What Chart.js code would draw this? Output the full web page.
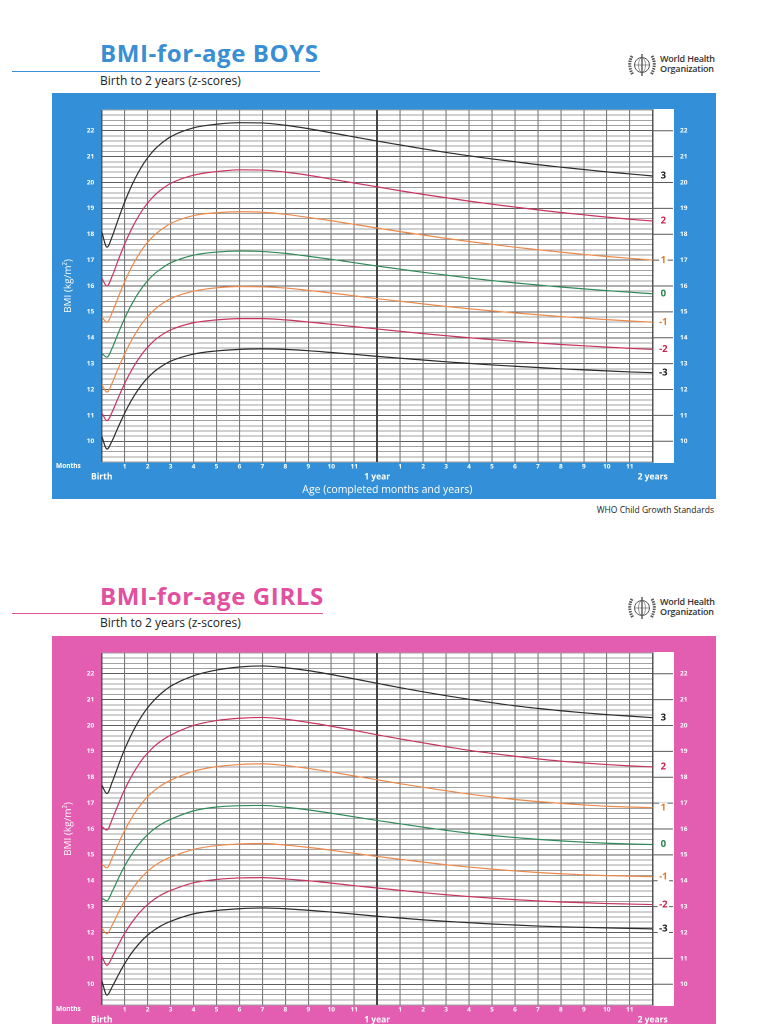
<!DOCTYPE html>
<html><head><meta charset="utf-8">
<script src="https://cdn.jsdelivr.net/npm/chart.js@4.4.1/dist/chart.umd.min.js"></script>
<style>
html,body{margin:0;padding:0;background:#fff;}
body{width:768px;height:1024px;overflow:hidden;position:relative;font-family:'Open Sans',sans-serif;}
.title{position:absolute;left:100px;font-weight:700;font-size:24px;line-height:24px;letter-spacing:0.6px;white-space:nowrap;}
.rule{position:absolute;left:12px;height:1px;}
.sub{position:absolute;left:100px;font-size:12px;line-height:12px;color:#222;white-space:nowrap;}
.box{position:absolute;left:52px;width:664px;height:406px;}
.box canvas{position:absolute;left:0;top:0;width:664px;height:406px;}
.months{position:absolute;left:4px;top:369px;color:#fff;font-weight:700;font-size:6.5px;line-height:8px;}
.logo{position:absolute;left:626px;}
.logotext{position:absolute;left:660px;font-size:9px;line-height:10px;font-weight:600;color:#333;white-space:nowrap;letter-spacing:-0.2px;}
.std{position:absolute;right:54px;font-size:8.5px;line-height:10px;color:#222;white-space:nowrap;}
</style></head>
<body>
<div class="title" style="top:41px;color:#3a8fd4">BMI-for-age BOYS</div>
<div class="rule" style="top:71px;width:308px;background:#3a8fd4"></div>
<div class="sub" style="top:75px">Birth to 2 years (z-scores)</div>
<svg class="logo" style="top:51px" width="32" height="28" viewBox="0 0 32 28"><g fill="none" stroke="#555"><circle cx="16" cy="14" r="7.5" stroke-width="1"/><ellipse cx="16" cy="14" rx="3.5" ry="7.5" stroke-width="0.6"/><line x1="8.5" y1="14" x2="23.5" y2="14" stroke-width="0.6"/><line x1="16" y1="3" x2="16" y2="25" stroke-width="1.4"/><path d="M6 5 Q1 14 7 24" stroke-width="3" stroke-dasharray="1.5 1"/><path d="M26 5 Q31 14 25 24" stroke-width="3" stroke-dasharray="1.5 1"/></g></svg>
<div class="logotext" style="top:54px">World Health<br>Organization</div>
<div class="box" style="top:93px;background:#3390d8"><canvas id="boys" width="664" height="406"></canvas><div class="months">Months</div></div>
<div class="std" style="top:505px">WHO Child Growth Standards</div>

<div class="title" style="top:584px;color:#e2509f">BMI-for-age GIRLS</div>
<div class="rule" style="top:613px;width:311px;background:#e2509f"></div>
<div class="sub" style="top:617px">Birth to 2 years (z-scores)</div>
<svg class="logo" style="top:594px" width="32" height="28" viewBox="0 0 32 28"><g fill="none" stroke="#555"><circle cx="16" cy="14" r="7.5" stroke-width="1"/><ellipse cx="16" cy="14" rx="3.5" ry="7.5" stroke-width="0.6"/><line x1="8.5" y1="14" x2="23.5" y2="14" stroke-width="0.6"/><line x1="16" y1="3" x2="16" y2="25" stroke-width="1.4"/><path d="M6 5 Q1 14 7 24" stroke-width="3" stroke-dasharray="1.5 1"/><path d="M26 5 Q31 14 25 24" stroke-width="3" stroke-dasharray="1.5 1"/></g></svg>
<div class="logotext" style="top:597px">World Health<br>Organization</div>
<div class="box" style="top:636px;background:#e35db0"><canvas id="girls" width="664" height="406"></canvas><div class="months">Months</div></div>

<script>
// ---- data ----
const ageMonths = [0, 0.23, 0.46, 0.69, 0.92, 1.15, 1.38, 1.61, 1.84, 2.07, 2.30, 2.53, 2.76, 2.99,
  4, 5, 6, 7, 8, 9, 10, 11, 12, 13, 14, 15, 16, 17, 18, 19, 20, 21, 22, 23, 24];
const zNames = ['3', '2', '1', '0', '-1', '-2', '-3'];

const boysZ3  = [18.10, 17.50, 17.92, 18.50, 19.06, 19.57, 20.02, 20.41, 20.75, 21.03, 21.27, 21.46, 21.62, 21.76,
  22.11, 22.25, 22.31, 22.30, 22.21, 22.08, 21.92, 21.76, 21.60, 21.45, 21.30, 21.16, 21.03, 20.91, 20.80, 20.69, 20.59, 20.50, 20.41, 20.33, 20.25];
const boysZ2  = [16.30, 16.00, 16.39, 16.93, 17.45, 17.92, 18.34, 18.70, 19.02, 19.28, 19.50, 19.68, 19.83, 19.96,
  20.28, 20.42, 20.49, 20.48, 20.40, 20.28, 20.13, 19.98, 19.83, 19.68, 19.54, 19.41, 19.28, 19.16, 19.05, 18.94, 18.84, 18.75, 18.66, 18.58, 18.51];
const boysZ1  = [14.80, 14.60, 14.98, 15.50, 16.00, 16.46, 16.86, 17.21, 17.51, 17.76, 17.97, 18.14, 18.28, 18.41,
  18.72, 18.83, 18.87, 18.85, 18.77, 18.65, 18.52, 18.38, 18.24, 18.10, 17.97, 17.84, 17.72, 17.61, 17.50, 17.40, 17.31, 17.22, 17.14, 17.07, 17.00];
const boysZ0  = [13.40, 13.25, 13.61, 14.11, 14.59, 15.03, 15.41, 15.74, 16.03, 16.27, 16.47, 16.63, 16.77, 16.89,
  17.19, 17.31, 17.35, 17.33, 17.26, 17.15, 17.03, 16.90, 16.77, 16.65, 16.53, 16.42, 16.31, 16.21, 16.12, 16.04, 15.96, 15.89, 15.82, 15.76, 15.70];
const boysZm1 = [12.20, 11.90, 12.26, 12.75, 13.22, 13.65, 14.03, 14.36, 14.65, 14.89, 15.09, 15.25, 15.39, 15.51,
  15.80, 15.93, 15.98, 15.97, 15.92, 15.83, 15.73, 15.62, 15.51, 15.41, 15.31, 15.21, 15.12, 15.04, 14.96, 14.89, 14.82, 14.76, 14.70, 14.65, 14.60];
const boysZm2 = [11.10, 10.80, 11.14, 11.62, 12.08, 12.50, 12.87, 13.19, 13.47, 13.70, 13.90, 14.06, 14.19, 14.30,
  14.58, 14.69, 14.74, 14.74, 14.69, 14.61, 14.52, 14.43, 14.34, 14.25, 14.16, 14.08, 14.00, 13.93, 13.86, 13.80, 13.74, 13.69, 13.64, 13.59, 13.55];
const boysZm3 = [10.20, 9.70, 10.03, 10.49, 10.94, 11.35, 11.71, 12.02, 12.29, 12.51, 12.70, 12.85, 12.98, 13.09,
  13.37, 13.49, 13.55, 13.57, 13.55, 13.50, 13.43, 13.36, 13.28, 13.21, 13.14, 13.07, 13.01, 12.95, 12.90, 12.85, 12.80, 12.76, 12.72, 12.68, 12.65];

const girlsZ3  = [17.70, 17.37, 17.82, 18.37, 18.91, 19.38, 19.80, 20.17, 20.49, 20.76, 20.99, 21.19, 21.36, 21.51,
  21.92, 22.14, 22.26, 22.30, 22.23, 22.12, 21.97, 21.80, 21.63, 21.46, 21.30, 21.15, 21.01, 20.88, 20.76, 20.66, 20.57, 20.49, 20.42, 20.36, 20.30];
const girlsZ2  = [16.10, 15.96, 16.38, 16.88, 17.37, 17.79, 18.16, 18.49, 18.77, 19.00, 19.20, 19.36, 19.50, 19.62,
  20.00, 20.19, 20.28, 20.31, 20.24, 20.12, 19.97, 19.81, 19.64, 19.48, 19.33, 19.18, 19.04, 18.92, 18.81, 18.71, 18.62, 18.55, 18.49, 18.44, 18.40];
const girlsZ1  = [14.65, 14.50, 14.89, 15.35, 15.80, 16.19, 16.53, 16.83, 17.09, 17.31, 17.49, 17.64, 17.77, 17.88,
  18.23, 18.41, 18.49, 18.52, 18.45, 18.34, 18.20, 18.05, 17.90, 17.75, 17.61, 17.48, 17.35, 17.24, 17.14, 17.06, 16.99, 16.93, 16.88, 16.85, 16.82];
const girlsZ0  = [13.33, 13.23, 13.59, 14.02, 14.44, 14.80, 15.12, 15.40, 15.64, 15.84, 16.01, 16.15, 16.27, 16.37,
  16.70, 16.85, 16.90, 16.91, 16.84, 16.74, 16.61, 16.47, 16.33, 16.20, 16.07, 15.95, 15.84, 15.75, 15.67, 15.60, 15.54, 15.49, 15.45, 15.42, 15.40];
const girlsZm1 = [12.17, 11.95, 12.29, 12.70, 13.10, 13.44, 13.74, 14.00, 14.23, 14.42, 14.58, 14.71, 14.82, 14.91,
  15.21, 15.36, 15.42, 15.44, 15.38, 15.29, 15.18, 15.06, 14.94, 14.83, 14.72, 14.62, 14.53, 14.45, 14.38, 14.32, 14.27, 14.23, 14.20, 14.18, 14.16];
const girlsZm2 = [11.09, 10.73, 11.06, 11.46, 11.85, 12.18, 12.47, 12.73, 12.95, 13.13, 13.29, 13.42, 13.53, 13.62,
  13.92, 14.05, 14.11, 14.12, 14.07, 14.00, 13.91, 13.81, 13.72, 13.63, 13.54, 13.46, 13.39, 13.33, 13.27, 13.22, 13.18, 13.15, 13.12, 13.10, 13.08];
const girlsZm3 = [10.15, 9.58, 9.91, 10.30, 10.68, 11.01, 11.30, 11.55, 11.77, 11.95, 12.10, 12.23, 12.34, 12.43,
  12.72, 12.85, 12.92, 12.95, 12.92, 12.86, 12.79, 12.71, 12.63, 12.56, 12.49, 12.43, 12.38, 12.33, 12.29, 12.25, 12.22, 12.20, 12.18, 12.16, 12.14];

const monthTicks = [0,1,2,3,4,5,6,7,8,9,10,11,12,13,14,15,16,17,18,19,20,21,22,23,24];
const yearTicks = [0, 12, 24];
const yearLabels = ['Birth', '1 year', '2 years'];
const bmiLabels = [10,11,12,13,14,15,16,17,18,19,20,21,22];

// ---- styles ----
const lineColors  = ['#2b2b2b', '#c9345f', '#ec8a4c', '#2f8a58', '#ec8a4c', '#c9345f', '#2b2b2b'];
const labelColors = ['#1a1a1a', '#c8254f', '#e57a25', '#2a8450', '#e57a25', '#c8254f', '#1a1a1a'];
const Y_MIN = 9.2, Y_MAX = 22.8, X_MAX = 24.885;
const FONT = "'Open Sans', sans-serif";

const zColumn = {
  id: 'zColumn',
  beforeDraw(chart) {
    const {ctx, chartArea: a} = chart;
    ctx.save();
    ctx.fillStyle = '#fff';
    ctx.fillRect(a.left, a.top, a.right - a.left, a.bottom - a.top);
    ctx.restore();
  },
  beforeDatasetsDraw(chart) {
    const {ctx, chartArea: a, scales: {x, y}} = chart;
    const x24 = x.getPixelForValue(24);
    ctx.save();
    ctx.fillStyle = '#fff';
    ctx.fillRect(x24 + 1, a.top - 1, a.right - x24, a.bottom - a.top + 2);
    ctx.strokeStyle = '#5a5a5a';
    ctx.lineWidth = 1;
    bmiLabels.forEach(v => {
      const py = y.getPixelForValue(v);
      ctx.beginPath(); ctx.moveTo(x24, py); ctx.lineTo(a.right, py); ctx.stroke();
    });
    ctx.restore();
  },
  afterDatasetsDraw(chart) {
    const {ctx, chartArea: a, scales: {x, y}} = chart;
    const x24 = x.getPixelForValue(24);
    const cx = (x24 + a.right) / 2 + 0.5;
    ctx.save();
    ctx.font = 'bold 9.5px ' + FONT;
    ctx.textAlign = 'center';
    ctx.textBaseline = 'middle';
    chart.data.datasets.forEach((ds, k) => {
      const last = ds.data[ds.data.length - 1];
      const py = y.getPixelForValue(last.y);
      const w = ctx.measureText(ds.label).width;
      ctx.fillStyle = '#fff';
      ctx.fillRect(cx - w / 2 - 1.5, py - 5, w + 3, 10);
      ctx.fillStyle = labelColors[k];
      ctx.fillText(ds.label, cx, py);
    });
    ctx.restore();
  }
};

function buildChart(id, series) {
  const tickFont = (size) => ({family: FONT, size: size, weight: 'bold'});
  return new Chart(document.getElementById(id), {
    type: 'line',
    data: {
      datasets: series.map((vals, k) => ({
        label: zNames[k],
        data: ageMonths.map((a, i) => ({x: a, y: vals[i]})),
        borderColor: lineColors[k],
        borderWidth: 1.2,
        pointRadius: 0,
        fill: false,
        cubicInterpolationMode: 'monotone'
      }))
    },
    options: {
      responsive: false,
      animation: false,
      devicePixelRatio: 2,
      layout: {padding: {top: 17, left: 0, right: 0, bottom: 0}},
      plugins: {legend: {display: false}, tooltip: {enabled: false}},
      scales: {
        x: {
          type: 'linear', position: 'bottom', min: 0, max: X_MAX, weight: 0,
          afterBuildTicks: s => { s.ticks = monthTicks.map(v => ({value: v})); },
          afterFit: s => { s.height = 10; },
          grid: {
            z: -1,
            drawTicks: false,
            color: c => (c.tick.value === 12 ? '#444' : (c.tick.value % 12 === 0 ? '#555' : '#7a7a7a')),
            lineWidth: c => (c.tick.value === 12 ? 2 : (c.tick.value % 12 === 0 ? 1.5 : 1.1))
          },
          border: {display: false},
          ticks: {autoSkip: false, maxRotation: 0, padding: 0.5, color: '#fff', font: tickFont(6.5),
            callback: v => (v % 12 === 0 ? '' : String(v % 12))}
        },
        x2: {
          type: 'linear', position: 'bottom', min: 0, max: X_MAX, weight: 1,
          afterBuildTicks: s => { s.ticks = yearTicks.map(v => ({value: v})); },
          afterFit: s => { s.height = 27; },
          grid: {display: false, drawTicks: false},
          border: {display: false},
          ticks: {autoSkip: false, maxRotation: 0, padding: 0, color: '#fff', font: tickFont(8.5),
            callback: v => yearLabels[yearTicks.indexOf(v)]},
          title: {display: true, text: 'Age (completed months and years)', color: '#fff',
            font: {family: FONT, size: 10.5}, padding: {top: 0, bottom: 2.7}}
        },
        y: {
          type: 'linear', position: 'left', min: Y_MIN, max: Y_MAX,
          afterBuildTicks: s => { const t = []; for (let i = Math.round(Y_MIN * 5); i <= Math.round(Y_MAX * 5); i++) t.push({value: i / 5}); s.ticks = t; },
          afterFit: s => { s.width = 49.7; },
          grid: {
            z: -2,
            drawTicks: false,
            color: c => (bmiLabels.includes(c.tick.value) ? '#5e5e5e' : '#a2a2a2'),
            lineWidth: 1
          },
          border: {display: false},
          ticks: {autoSkip: false, padding: 7.5, color: '#fff', font: tickFont(6.5),
            callback: v => (bmiLabels.includes(v) ? String(v) : '')},
          title: {display: true, text: 'BMI (kg/m²)', color: '#fff', font: {family: FONT, size: 10},
            padding: {top: 10, bottom: 0}}
        },
        y2: {
          type: 'linear', position: 'right', min: Y_MIN, max: Y_MAX,
          afterBuildTicks: s => { s.ticks = bmiLabels.map(v => ({value: v})); },
          afterFit: s => { s.width = 43; },
          grid: {display: false, drawTicks: false},
          border: {display: false},
          ticks: {autoSkip: false, padding: 7, color: '#fff', font: tickFont(6.5)}
        }
      }
    },
    plugins: [zColumn]
  });
}

buildChart('boys', [boysZ3, boysZ2, boysZ1, boysZ0, boysZm1, boysZm2, boysZm3]);
buildChart('girls', [girlsZ3, girlsZ2, girlsZ1, girlsZ0, girlsZm1, girlsZm2, girlsZm3]);
</script>
</body></html>
